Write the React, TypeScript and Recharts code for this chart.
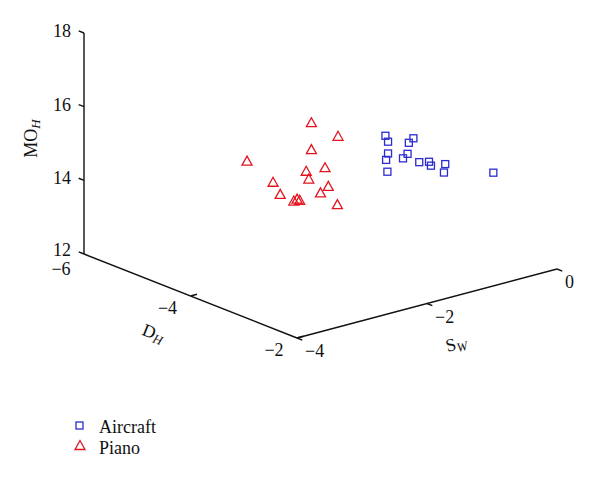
import React from 'react';
import { ScatterChart, Scatter, XAxis, YAxis, ReferenceLine, Legend } from 'recharts';

// ---- data (3D values: D_H, S_W, MO_H) ----
const pianoDH = [-4, -4, -4, -4, -4, -4, -4, -4, -4, -4, -4, -4, -4, -4, -4];
const pianoSW = [-2.14, -1.73, -2.14, -3.13, -1.93, -2.22, -2.18, -2.73, -1.88, -2.62, -2.0, -2.41, -2.36, -2.32, -1.74];
const pianoMOH = [15.82, 15.26, 15.09, 15.24, 14.5, 14.54, 14.31, 14.48, 13.97, 14.1, 13.85, 13.82, 13.85, 13.8, 13.41];

const aircraftDH = [-3, -3, -3, -3, -3, -3, -3, -3, -3, -3, -3, -3, -3, -3, -3];
const aircraftSW = [-1.82, -1.78, -1.39, -1.46, -1.78, -1.81, -1.48, -1.55, -1.3, -1.15, -1.12, -0.9, -0.92, -1.79, -0.16];
const aircraftMOH = [15.9, 15.72, 15.63, 15.54, 15.4, 15.24, 15.25, 15.16, 14.94, 14.88, 14.76, 14.7, 14.48, 14.91, 14.12];

const seriesNames = ['Aircraft', 'Piano'];
const dhTicks = [-6, -4, -2];
const swTicks = [-4, -2, 0];
const mohTicks = [12, 14, 16, 18];
const dhTickMarks = [-4, -2];

// ---- view (projection of the 3D box onto the page plane) ----
const W = 600;
const H = 483;
const FONT = "'Liberation Serif', 'Times New Roman', serif";
const FS = 18;
const BLUE = '#2b2bd0';
const RED = '#e3141e';

const project = (dh: number, sw: number, moh: number) => ({
  x: 84 + (dh + 6) * 53.25 + (sw + 4) * 65,
  y: 254 + (dh + 6) * 21 - (sw + 4) * 17.25 - (moh - 12) * 36.83,
});

const aircraftPts = aircraftSW.map((sw, i) => project(aircraftDH[i], sw, aircraftMOH[i]));
const pianoPts = pianoSW.map((sw, i) => project(pianoDH[i], sw, pianoMOH[i]));

const fmt = (v: number) => (v < 0 ? '\u2212' + Math.abs(v) : String(v));

type Lbl = { x: number; y: number; kind: string; text: string; anchor: string; dx: number; dy: number; rot?: number };
const labels: Lbl[] = [
  ...mohTicks.map((v) => ({ ...project(-6, -4, v), kind: 'tick', text: String(v), anchor: 'end', dx: -13, dy: v === 12 ? -4 : -2 })),
  ...dhTicks.map((v) => ({ ...project(v, -4, 12), kind: 'tick', text: fmt(v), anchor: 'middle', dx: -23, dy: v === -6 ? 15 : 12 })),
  ...swTicks.map((v) => ({ ...project(-2, v, 12), kind: 'tick', text: fmt(v), anchor: 'start', dx: 8, dy: 13 })),
  { ...project(-6, -4, 15), kind: 'moh', text: 'MO', anchor: 'middle', dx: -53, dy: -5, rot: -90 },
  { ...project(-4, -4, 12), kind: 'dh', text: 'D', anchor: 'middle', dx: -37, dy: 37, rot: 21.5 },
  { ...project(-2, -2, 12), kind: 'sw', text: 'S', anchor: 'middle', dx: 29, dy: 40, rot: -15 },
];

const subOf: Record<string, string> = { moh: 'H', dh: 'H', sw: 'W' };

const LabelShape = (props: any) => {
  const { cx, cy, payload } = props;
  const p = payload as Lbl;
  const x = cx + p.dx;
  const y = cy + p.dy;
  if (p.kind === 'tick') {
    return (
      <text x={x} y={y} textAnchor={p.anchor as any} dominantBaseline="central" fontFamily={FONT} fontSize={FS} fill="#111">
        {p.text}
      </text>
    );
  }
  return (
    <text
      x={x}
      y={y}
      textAnchor="middle"
      dominantBaseline="central"
      fontFamily={FONT}
      fontSize={FS}
      fill="#111"
      transform={`rotate(${p.rot} ${x} ${y})`}
    >
      <tspan>{p.text}</tspan>
      <tspan fontStyle="italic" fontSize={13} dy={4}>
        {subOf[p.kind]}
      </tspan>
    </text>
  );
};

const SquareShape = (props: any) => {
  const { cx, cy } = props;
  return <rect x={cx - 3.5} y={cy - 3.5} width={7} height={7} fill="none" stroke={BLUE} strokeWidth={1.3} />;
};

const TriangleShape = (props: any) => {
  const { cx, cy } = props;
  return (
    <polygon
      points={`${cx},${cy - 5.5} ${cx - 5},${cy + 3.5} ${cx + 5},${cy + 3.5}`}
      fill="none"
      stroke={RED}
      strokeWidth={1.3}
    />
  );
};

const LegendContent = () => (
  <svg width={150} height={50}>
    <rect x={6} y={6} width={7} height={7} fill="none" stroke={BLUE} strokeWidth={1.3} />
    <text x={29} y={17} fontFamily={FONT} fontSize={FS} fill="#111">
      {seriesNames[0]}
    </text>
    <polygon points="10,24.5 5,33.5 15,33.5" fill="none" stroke={RED} strokeWidth={1.3} />
    <text x={29} y={38} fontFamily={FONT} fontSize={FS} fill="#111">
      {seriesNames[1]}
    </text>
  </svg>
);

const seg = (a: { x: number; y: number }, b: { x: number; y: number }) => [
  { x: a.x, y: a.y },
  { x: b.x, y: b.y },
];

const axisSegments = [
  seg(project(-6, -4, 12), project(-6, -4, 18)),
  seg(project(-6, -4, 12), project(-2, -4, 12)),
  seg(project(-2, -4, 12), project(-2, 0, 12)),
  ...mohTicks.map((v) => seg(project(-6, -4, v), project(-6.1, -4, v))),
  ...dhTickMarks.map((v) => seg(project(v, -4, 12), project(v, -3.9, 12))),
  ...swTicks.map((v) => seg(project(-2, v, 12), project(-1.9, v, 12))),
];

export default function App() {
  return (
    <div style={{ position: 'absolute', left: 0, top: 0, width: W, height: H, background: '#fff' }}>
      <ScatterChart width={W} height={H} margin={{ top: 0, right: 0, bottom: 0, left: 0 }}>
        <XAxis type="number" dataKey="x" domain={[0, W]} hide height={0} allowDataOverflow />
        <YAxis type="number" dataKey="y" domain={[0, H]} reversed hide width={0} allowDataOverflow />
        {axisSegments.map((s, i) => (
          <ReferenceLine key={i} segment={s} stroke="#111" strokeWidth={1.4} ifOverflow="visible" />
        ))}
        <Scatter name={seriesNames[0]} data={aircraftPts} shape={SquareShape} isAnimationActive={false} />
        <Scatter name={seriesNames[1]} data={pianoPts} shape={TriangleShape} isAnimationActive={false} />
        <Scatter name="labels" data={labels} shape={LabelShape} isAnimationActive={false} legendType="none" />
        <Legend
          layout="horizontal"
          verticalAlign="middle"
          align="center"
          content={LegendContent}
          wrapperStyle={{ position: 'absolute', left: 70, top: 416, width: 150, height: 50 }}
        />
      </ScatterChart>
    </div>
  );
}
